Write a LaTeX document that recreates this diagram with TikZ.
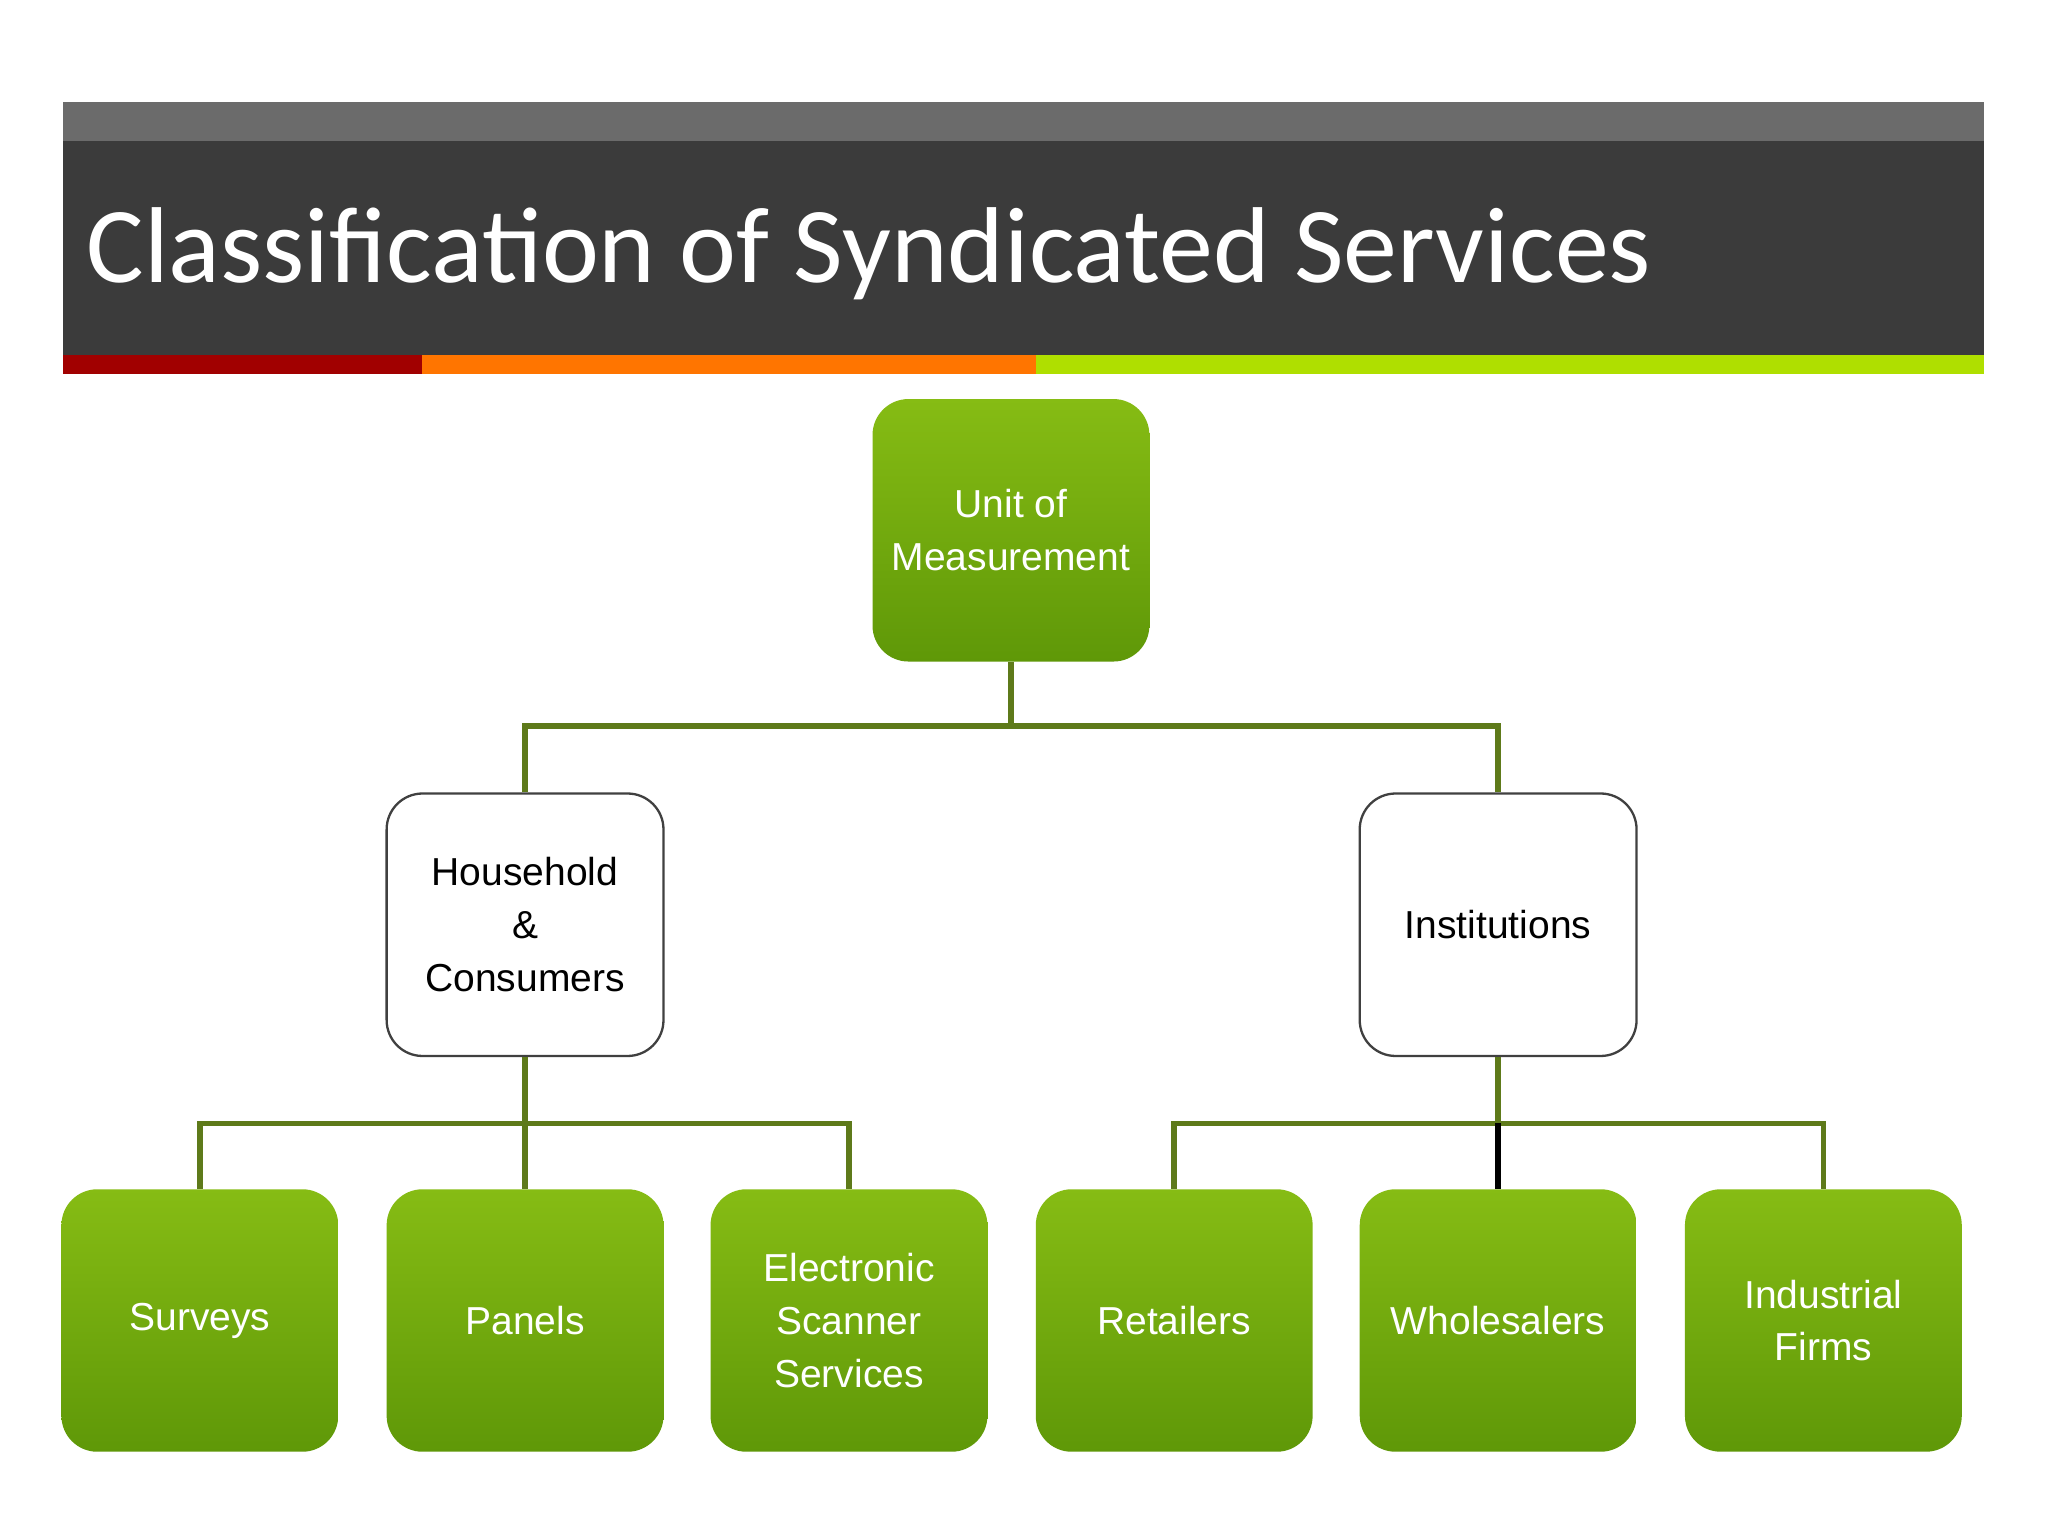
\documentclass[tikz,border=0pt]{standalone}
\usepackage{fontspec}
\setmainfont{Liberation Sans}
\newfontfamily\titlefont{Carlito}
\begin{document}
\begin{tikzpicture}[x=0.02cm,y=-0.02cm,
  gbox/.style={rounded corners=0.55cm,draw=none,top color=green!45!black!20!lime!60!olive,bottom color=green!45!black!20!lime!60!olive,
     inner sep=0pt,minimum width=4.24cm,minimum height=4.02cm,text=white,align=center,font=\fontsize{17}{23}\selectfont},
  wbox/.style={rounded corners=0.55cm,draw=black!75,line width=1pt,fill=white,inner sep=0pt,minimum width=4.24cm,minimum height=4.02cm,align=center,font=\fontsize{17}{23}\selectfont},
  con/.style={draw=conc,line width=2.4pt}]
\definecolor{gtop}{HTML}{86BC14}
\definecolor{gbot}{HTML}{5F9808}
\definecolor{conc}{HTML}{5E7A1A}
\tikzset{gbox/.append style={top color=gtop,bottom color=gbot}}
\useasboundingbox (0,0) rectangle (1568,1176);
\fill[white] (0,0) rectangle (1568,1176);
\fill[black!58] (48,78) rectangle (1519,108);
\fill[black!77] (48,108) rectangle (1519,272);
\fill[red!63!black] (48,272) rectangle (323,286);
\fill[orange!80!red!90!yellow] (323,272) rectangle (793,286);
\fill[lime!75!olive] (793,272) rectangle (1519,286);
\node[anchor=base west,text=white,font=\titlefont\fontsize{47}{50}\selectfont,inner sep=0pt] (title) at (66,216) {Classification of Syndicated Services};
\node[gbox] (top) at (774,406) {Unit of\\Measurement};
\node[wbox] (hh) at (402,708) {Household\\\&\\Consumers};
\node[wbox] (inst) at (1147,708) {Institutions};
\node[gbox] (s) at (153,1011) {Surveys};
\node[gbox] (p) at (402,1011) {Panels};
\node[gbox] (e) at (650,1011) {Electronic\\Scanner\\Services};
\node[gbox] (r) at (899,1011) {Retailers};
\node[gbox] (w) at (1147,1011) {Wholesalers};
\node[gbox] (i) at (1396,1011) {Industrial\\Firms};
\coordinate (j1) at (774,556);
\coordinate (j2) at (402,860);
\coordinate (j3) at (1147,860);
\draw[con] (top.south) -- (j1);
\draw[con] (hh.north) |- (j1) -| (inst.north);
\draw[con] (hh.south) -- (j2);
\draw[con] (s.north) |- (j2) -| (e.north);
\draw[con] (p.north) -- (j2);
\draw[con] (inst.south) -- (j3);
\draw[con] (r.north) |- (j3) -| (i.north);
\draw[con,draw=black] (w.north) -- (j3);
\end{tikzpicture}
\end{document}
